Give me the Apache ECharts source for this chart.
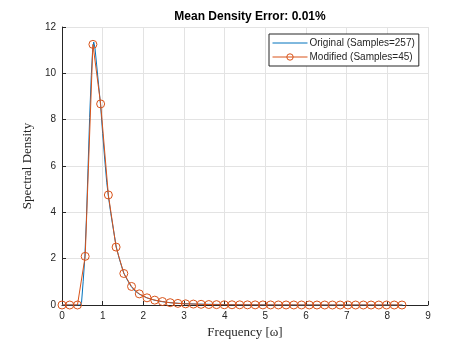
<!DOCTYPE html>
<html>
<head>
<meta charset="utf-8">
<script src="https://cdn.jsdelivr.net/npm/echarts@6/dist/echarts.min.js"></script>
<style>
  html, body { margin: 0; padding: 0; background: #fff; }
  #chart { width: 474px; height: 343px; }
</style>
</head>
<body>
<div id="chart"></div>
<script>
// original curve (denser near the peak)
const freqOrig = [0, 0.3, 0.45, 0.48, 0.52, 0.56, 0.6, 0.64, 0.68, 0.72, 0.75, 0.78, 0.81, 0.85, 0.9, 0.95,
  1.0, 1.05, 1.1, 1.14, 1.2, 1.26, 1.33, 1.4, 1.47, 1.52, 1.6, 1.7, 1.8, 1.9, 2.0, 2.1, 2.25,
  2.4, 2.6, 2.8, 3.0, 3.3, 3.6, 4.0, 4.5, 5.0, 6.0, 7.0, 8.38];
const densOrig = [0, 0, 0, 0.1, 1.0, 2.0, 3.7, 5.9, 8.1, 9.9, 10.9, 11.35, 11.1, 10.4, 9.5, 8.6,
  7.4, 6.3, 5.3, 4.7, 3.95, 3.3, 2.55, 2.05, 1.65, 1.38, 1.1, 0.8, 0.6, 0.47, 0.38, 0.3, 0.22,
  0.16, 0.11, 0.08, 0.06, 0.04, 0.03, 0.02, 0.01, 0.005, 0, 0, 0];

// modified (45 samples)
const freqMod = [0, 0.19, 0.38, 0.57, 0.76, 0.95, 1.14, 1.33, 1.52, 1.71, 1.9, 2.09, 2.28, 2.47, 2.66,
  2.85, 3.04, 3.23, 3.42, 3.61, 3.8, 3.99, 4.18, 4.37, 4.56, 4.75, 4.94, 5.13, 5.32, 5.51,
  5.7, 5.89, 6.08, 6.27, 6.46, 6.65, 6.84, 7.03, 7.22, 7.41, 7.6, 7.79, 7.98, 8.17, 8.36];
const densMod = [0, 0, 0, 2.1, 11.25, 8.68, 4.75, 2.5, 1.36, 0.8, 0.48, 0.31, 0.21, 0.15, 0.1,
  0.07, 0.05, 0.04, 0.03, 0.02, 0.015, 0.01, 0.01, 0.008, 0.006, 0.005, 0.004, 0.003, 0.002, 0.002,
  0.001, 0.001, 0.001, 0, 0, 0, 0, 0, 0, 0, 0, 0, 0, 0, 0];

const xTicks = [0, 1, 2, 3, 4, 5, 6, 7, 8, 9];
const yTicks = [0, 2, 4, 6, 8, 10, 12];

const axisColor = "#262626";
const gridColor = "#e3e3e3";
const blue = "#0072BD";
const orange = "#D95319";

const chart = echarts.init(document.getElementById("chart"));
chart.setOption({
  animation: false,
  backgroundColor: "#fff",
  title: {
    text: "Mean Density Error: 0.01%",
    left: 245,
    textAlign: "center",
    top: 6,
    textStyle: { fontFamily: "Liberation Sans", fontSize: 12, fontWeight: "bold", color: "#000" },
  },
  legend: {
    left: 269,
    top: 34,
    orient: "vertical",
    padding: [4, 4, 4, 3],
    itemGap: 4,
    itemWidth: 35,
    itemHeight: 8,
    backgroundColor: "#fff",
    borderColor: axisColor,
    borderWidth: 1,
    borderRadius: 0,
    lineStyle: { width: 1 },
    textStyle: { fontFamily: "Liberation Sans", fontSize: 10, color: axisColor, padding: [0, 0, 0, -3] },
    data: [
      { name: "Original (Samples=257)", itemStyle: { opacity: 0 } },
      { name: "Modified (Samples=45)", itemStyle: { borderWidth: 1 } },
    ],
  },
  grid: { left: 62, right: 46, top: 27, bottom: 38, containLabel: false, outerBoundsMode: "none" },
  xAxis: {
    type: "value",
    min: xTicks[0],
    max: xTicks[xTicks.length - 1],
    interval: 1,
    name: "Frequency [ω]",
    nameLocation: "middle",
    nameGap: 20,
    nameTextStyle: { fontFamily: "Liberation Serif", fontSize: 13, color: axisColor },
    axisLine: { lineStyle: { color: axisColor, width: 1 } },
    axisTick: { inside: true, length: 4, lineStyle: { color: axisColor } },
    axisLabel: { fontFamily: "Liberation Sans", fontSize: 10, color: axisColor, margin: 6 },
    splitLine: { show: true, lineStyle: { color: gridColor, width: 1 } },
  },
  yAxis: {
    type: "value",
    min: yTicks[0],
    max: yTicks[yTicks.length - 1],
    interval: 2,
    name: "Spectral Density",
    nameLocation: "middle",
    nameGap: 12,
    nameTextStyle: { fontFamily: "Liberation Serif", fontSize: 13, color: axisColor },
    axisLine: { show: true, lineStyle: { color: axisColor, width: 1 } },
    axisTick: { show: true, inside: true, length: 4, lineStyle: { color: axisColor } },
    axisLabel: { fontFamily: "Liberation Sans", fontSize: 10, color: axisColor, margin: 6 },
    splitLine: { show: true, lineStyle: { color: gridColor, width: 1 } },
  },
  series: [
    {
      name: "Original (Samples=257)",
      type: "line",
      data: freqOrig.map((f, i) => [f, densOrig[i]]),
      symbol: "none",
      lineStyle: { color: blue, width: 1 },
      itemStyle: { color: blue },
      z: 2,
    },
    {
      name: "Modified (Samples=45)",
      type: "line",
      data: freqMod.map((f, i) => [f, densMod[i]]),
      symbol: "circle",
      symbolSize: 8,
      lineStyle: { color: orange, width: 1 },
      itemStyle: { color: "rgba(255,255,255,0)", borderColor: orange, borderWidth: 1 },
      z: 3,
    },
  ],
});
</script>
</body>
</html>
